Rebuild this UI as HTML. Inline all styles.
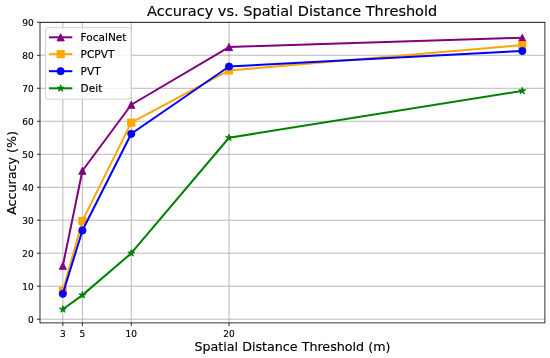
<!DOCTYPE html>
<html><head><meta charset="utf-8"><title>Accuracy vs. Spatial Distance Threshold</title>
<style>html,body{margin:0;padding:0;background:#fff;width:550px;height:358px;overflow:hidden}svg{display:block;filter:blur(0.35px)} text{stroke:#000;stroke-width:0.15px}</style>
</head><body><svg width="550" height="358" viewBox="0 0 550 358" font-family="DejaVu Sans, Liberation Sans, sans-serif" ><g stroke="#b0b0b0" stroke-width="0.9"><line x1="40.0" y1="319.20" x2="544.9" y2="319.20"/><line x1="40.0" y1="286.21" x2="544.9" y2="286.21"/><line x1="40.0" y1="253.22" x2="544.9" y2="253.22"/><line x1="40.0" y1="220.23" x2="544.9" y2="220.23"/><line x1="40.0" y1="187.24" x2="544.9" y2="187.24"/><line x1="40.0" y1="154.25" x2="544.9" y2="154.25"/><line x1="40.0" y1="121.26" x2="544.9" y2="121.26"/><line x1="40.0" y1="88.27" x2="544.9" y2="88.27"/><line x1="40.0" y1="55.28" x2="544.9" y2="55.28"/><line x1="40.0" y1="22.29" x2="544.9" y2="22.29"/><line x1="62.85" y1="22.3" x2="62.85" y2="322.9"/><line x1="82.40" y1="22.3" x2="82.40" y2="322.9"/><line x1="131.27" y1="22.3" x2="131.27" y2="322.9"/><line x1="229.02" y1="22.3" x2="229.02" y2="322.9"/></g><polyline points="62.85,265.76 82.40,170.75 131.27,104.76 229.02,47.03 522.27,37.80" fill="none" stroke="#800080" stroke-width="2.0" stroke-linejoin="round" stroke-linecap="butt"/><polygon points="62.85,262.16 59.25,269.36 66.45,269.36" fill="#800080" stroke="#800080" stroke-width="0.9" stroke-linejoin="miter"/><polygon points="82.40,167.15 78.80,174.34 86.00,174.34" fill="#800080" stroke="#800080" stroke-width="0.9" stroke-linejoin="miter"/><polygon points="131.27,101.16 127.67,108.36 134.87,108.36" fill="#800080" stroke="#800080" stroke-width="0.9" stroke-linejoin="miter"/><polygon points="229.02,43.43 225.42,50.63 232.62,50.63" fill="#800080" stroke="#800080" stroke-width="0.9" stroke-linejoin="miter"/><polygon points="522.27,34.20 518.67,41.40 525.87,41.40" fill="#800080" stroke="#800080" stroke-width="0.9" stroke-linejoin="miter"/><polyline points="62.85,290.83 82.40,220.89 131.27,122.58 229.02,70.46 522.27,45.05" fill="none" stroke="#ffa500" stroke-width="2.0" stroke-linejoin="round" stroke-linecap="butt"/><rect x="59.25" y="287.23" width="7.2" height="7.2" fill="#ffa500" stroke="#ffa500" stroke-width="0.9"/><rect x="78.80" y="217.29" width="7.2" height="7.2" fill="#ffa500" stroke="#ffa500" stroke-width="0.9"/><rect x="127.67" y="118.98" width="7.2" height="7.2" fill="#ffa500" stroke="#ffa500" stroke-width="0.9"/><rect x="225.42" y="66.86" width="7.2" height="7.2" fill="#ffa500" stroke="#ffa500" stroke-width="0.9"/><rect x="518.67" y="41.45" width="7.2" height="7.2" fill="#ffa500" stroke="#ffa500" stroke-width="0.9"/><polyline points="62.85,293.80 82.40,230.46 131.27,133.80 229.02,66.50 522.27,50.99" fill="none" stroke="#0000ff" stroke-width="2.0" stroke-linejoin="round" stroke-linecap="butt"/><circle cx="62.85" cy="293.80" r="3.6" fill="#0000ff" stroke="#0000ff" stroke-width="0.9"/><circle cx="82.40" cy="230.46" r="3.6" fill="#0000ff" stroke="#0000ff" stroke-width="0.9"/><circle cx="131.27" cy="133.80" r="3.6" fill="#0000ff" stroke="#0000ff" stroke-width="0.9"/><circle cx="229.02" cy="66.50" r="3.6" fill="#0000ff" stroke="#0000ff" stroke-width="0.9"/><circle cx="522.27" cy="50.99" r="3.6" fill="#0000ff" stroke="#0000ff" stroke-width="0.9"/><polyline points="62.85,309.30 82.40,295.12 131.27,253.22 229.02,137.75 522.27,90.91" fill="none" stroke="#008000" stroke-width="2.0" stroke-linejoin="round" stroke-linecap="butt"/><polygon points="62.85,305.70 62.04,308.19 59.42,308.19 61.54,309.73 60.73,312.22 62.85,310.68 64.96,312.22 64.15,309.73 66.27,308.19 63.65,308.19" fill="#008000" stroke="#008000" stroke-width="0.9" stroke-linejoin="bevel"/><polygon points="82.40,291.52 81.59,294.00 78.97,294.00 81.09,295.54 80.28,298.03 82.40,296.49 84.51,298.03 83.70,295.54 85.82,294.00 83.20,294.00" fill="#008000" stroke="#008000" stroke-width="0.9" stroke-linejoin="bevel"/><polygon points="131.27,249.62 130.46,252.11 127.85,252.11 129.96,253.64 129.15,256.13 131.27,254.60 133.39,256.13 132.58,253.64 134.69,252.11 132.08,252.11" fill="#008000" stroke="#008000" stroke-width="0.9" stroke-linejoin="bevel"/><polygon points="229.02,134.16 228.21,136.64 225.60,136.64 227.71,138.18 226.90,140.67 229.02,139.13 231.14,140.67 230.33,138.18 232.44,136.64 229.83,136.64" fill="#008000" stroke="#008000" stroke-width="0.9" stroke-linejoin="bevel"/><polygon points="522.27,87.31 521.46,89.80 518.85,89.80 520.96,91.33 520.15,93.82 522.27,92.28 524.39,93.82 523.58,91.33 525.69,89.80 523.08,89.80" fill="#008000" stroke="#008000" stroke-width="0.9" stroke-linejoin="bevel"/><rect x="40.0" y="22.3" width="504.90" height="300.60" fill="none" stroke="#000" stroke-width="0.8"/><g stroke="#000" stroke-width="0.8"><line x1="36.85" y1="319.20" x2="40.0" y2="319.20"/><line x1="36.85" y1="286.21" x2="40.0" y2="286.21"/><line x1="36.85" y1="253.22" x2="40.0" y2="253.22"/><line x1="36.85" y1="220.23" x2="40.0" y2="220.23"/><line x1="36.85" y1="187.24" x2="40.0" y2="187.24"/><line x1="36.85" y1="154.25" x2="40.0" y2="154.25"/><line x1="36.85" y1="121.26" x2="40.0" y2="121.26"/><line x1="36.85" y1="88.27" x2="40.0" y2="88.27"/><line x1="36.85" y1="55.28" x2="40.0" y2="55.28"/><line x1="36.85" y1="22.29" x2="40.0" y2="22.29"/><line x1="62.85" y1="322.9" x2="62.85" y2="326.05"/><line x1="82.40" y1="322.9" x2="82.40" y2="326.05"/><line x1="131.27" y1="322.9" x2="131.27" y2="326.05"/><line x1="229.02" y1="322.9" x2="229.02" y2="326.05"/></g><g font-size="9" fill="#000"><text x="33.70" y="322.80" text-anchor="end">0</text><text x="33.70" y="289.81" text-anchor="end">10</text><text x="33.70" y="256.82" text-anchor="end">20</text><text x="33.70" y="223.83" text-anchor="end">30</text><text x="33.70" y="190.84" text-anchor="end">40</text><text x="33.70" y="157.85" text-anchor="end">50</text><text x="33.70" y="124.86" text-anchor="end">60</text><text x="33.70" y="91.87" text-anchor="end">70</text><text x="33.70" y="58.88" text-anchor="end">80</text><text x="33.70" y="25.89" text-anchor="end">90</text><text x="62.85" y="336.7" text-anchor="middle">3</text><text x="82.40" y="336.7" text-anchor="middle">5</text><text x="131.27" y="336.7" text-anchor="middle">10</text><text x="229.02" y="336.7" text-anchor="middle">20</text></g><text x="292.45" y="351.2" text-anchor="middle" font-size="12.7">Spatial Distance Threshold (m)</text><text transform="translate(15.9 172.90) rotate(-90)" text-anchor="middle" font-size="12.7">Accuracy (%)</text><text x="292.15" y="16.45" text-anchor="middle" font-size="14.5">Accuracy vs. Spatial Distance Threshold</text><rect x="45.5" y="27.7" width="85.7" height="71.5" rx="2.5" ry="2.5" fill="#fff" fill-opacity="0.8" stroke="#cccccc" stroke-width="0.9"/><line x1="49" y1="37.3" x2="72.3" y2="37.3" stroke="#800080" stroke-width="2.0"/><polygon points="60.65,33.70 57.05,40.90 64.25,40.90" fill="#800080" stroke="#800080" stroke-width="0.9" stroke-linejoin="miter"/><text x="80.6" y="40.90" font-size="10.55">FocalNet</text><line x1="49" y1="54.2" x2="72.3" y2="54.2" stroke="#ffa500" stroke-width="2.0"/><rect x="57.05" y="50.60" width="7.2" height="7.2" fill="#ffa500" stroke="#ffa500" stroke-width="0.9"/><text x="80.6" y="57.80" font-size="10.55">PCPVT</text><line x1="49" y1="71.2" x2="72.3" y2="71.2" stroke="#0000ff" stroke-width="2.0"/><circle cx="60.65" cy="71.20" r="3.6" fill="#0000ff" stroke="#0000ff" stroke-width="0.9"/><text x="80.6" y="74.80" font-size="10.55">PVT</text><line x1="49" y1="88.3" x2="72.3" y2="88.3" stroke="#008000" stroke-width="2.0"/><polygon points="60.65,84.70 59.84,87.19 57.23,87.19 59.34,88.72 58.53,91.21 60.65,89.68 62.77,91.21 61.96,88.72 64.07,87.19 61.46,87.19" fill="#008000" stroke="#008000" stroke-width="0.9" stroke-linejoin="bevel"/><text x="80.6" y="91.90" font-size="10.55">Deit</text></svg></body></html>
